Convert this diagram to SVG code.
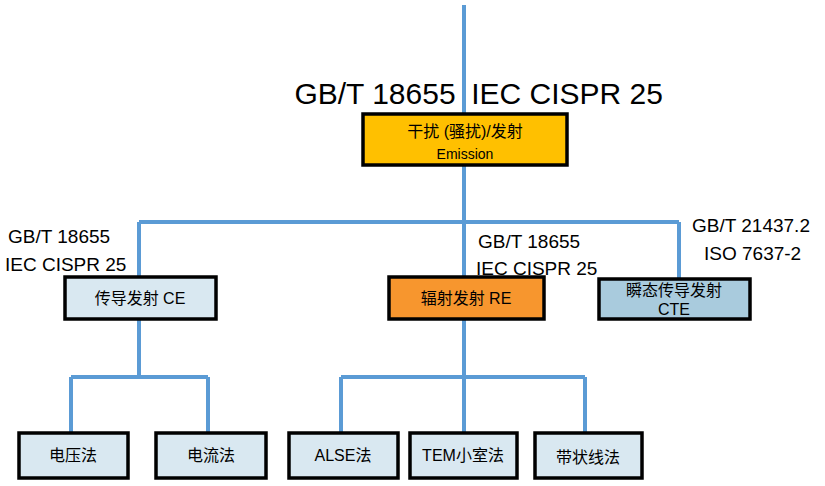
<svg xmlns="http://www.w3.org/2000/svg" width="825" height="486" viewBox="0 0 825 486">
<style>
.ln{stroke:#5b9bd5;stroke-width:4;fill:none}
.bx{stroke:#000;stroke-width:3.5}
text{font-family:"Liberation Sans","Noto Sans CJK SC",sans-serif;fill:#000;text-anchor:middle}
.s{font-size:16px}
.l{font-size:19px;text-anchor:start}
.big{font-size:30px}
</style>
<rect width="825" height="486" fill="#fff"/>
<g id="connectors">
<path class="ln" d="M464 5V114M464 165V222M139 222H679M139 222V277M464 222V277M679 222V279M139 319V377M71 377H208M71 377V433M208 377V433M464 319V377M341 377H585M341 377V433M464 377V433M585 377V433"/>
</g>
<g id="labels">
<text class="big" x="375" y="104">GB/T 18655</text>
<text class="big" x="567" y="104">IEC CISPR 25</text>
<text class="l" x="8" y="243">GB/T 18655</text>
<text class="l" x="5" y="271">IEC CISPR 25</text>
<text class="l" x="478" y="248">GB/T 18655</text>
<text class="l" x="476" y="275">IEC CISPR 25</text>
<text class="l" x="692" y="232">GB/T 21437.2</text>
<text class="l" x="704" y="260">ISO 7637-2</text>
</g>
<g id="root"><rect class="bx" x="363" y="114" width="204" height="51" fill="#ffc000"/>
<text class="s" x="465" y="137">干扰 (骚扰)/发射</text><text x="465" y="159" font-size="14">Emission</text></g>
<g id="ce"><rect class="bx" x="65" y="277" width="151" height="42" fill="#d9e8f1"/><text class="s" x="140" y="304">传导发射 CE</text></g>
<g id="re"><rect class="bx" x="389" y="277" width="155" height="42" fill="#f7962e"/><text class="s" x="466" y="304">辐射发射 RE</text></g>
<g id="cte"><rect class="bx" x="599" y="279" width="151" height="40" fill="#a9cbdd"/><text class="s" x="674" y="296">瞬态传导发射</text><text class="s" x="674" y="315">CTE</text></g>
<g id="voltage"><rect class="bx" x="19" y="433" width="109" height="45" fill="#d9e8f1"/><text class="s" x="73" y="461">电压法</text></g>
<g id="current"><rect class="bx" x="156" y="433" width="110" height="45" fill="#d9e8f1"/><text class="s" x="211" y="461">电流法</text></g>
<g id="alse"><rect class="bx" x="289" y="433" width="109" height="45" fill="#d9e8f1"/><text class="s" x="343" y="461">ALSE法</text></g>
<g id="tem"><rect class="bx" x="410" y="433" width="107" height="45" fill="#d9e8f1"/><text class="s" x="463" y="461">TEM小室法</text></g>
<g id="strip"><rect class="bx" x="535" y="433" width="107" height="45" fill="#d9e8f1"/><text class="s" x="588" y="463">带状线法</text></g>
</svg>
